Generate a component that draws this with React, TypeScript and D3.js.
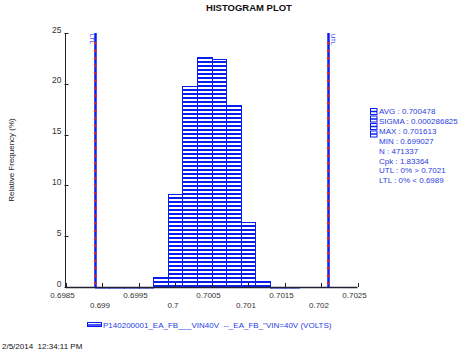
import React from "react";
import * as d3 from "d3";

const binStarts = [0.6989, 0.6991, 0.6993, 0.6995, 0.6997, 0.6999, 0.7001, 0.7003, 0.7005, 0.7007, 0.7009, 0.7011, 0.7013, 0.7015];
const frequencies = [0.01, 0.01, 0.01, 0.01, 1.0, 9.15, 19.8, 22.6, 22.4, 17.9, 6.4, 0.6, 0.02, 0.01];
const binWidth = 0.0002;
const yTicks = [0, 5, 10, 15, 20, 25];
const xTicksTop = [0.6985, 0.6995, 0.7005, 0.7015, 0.7025];
const xTicksBottom = [0.699, 0.7, 0.701, 0.702];
const limits = [
  { name: "LTL", value: 0.6989, side: -1 },
  { name: "UTL", value: 0.7021, side: 1 },
];
const statLines = [
  "AVG : 0.700478",
  "SIGMA : 0.000286825",
  "MAX : 0.701613",
  "MIN : 0.699027",
  "N : 471337",
  "Cpk : 1.83364",
  "UTL : 0% > 0.7021",
  "LTL : 0% < 0.6989",
];
const seriesLabel = "P140200001_EA_FB___VIN40V  --_EA_FB_\"VIN=40V (VOLTS)";
const dateLabel = "2/5/2014  12:34:11 PM";

const BLUE = "#0a1ef0";
const FONT = "'Liberation Sans', Arial, sans-serif";

export default function App() {
  const x = d3.scaleLinear().domain([0.6985, 0.7025]).range([65.5, 357.5]);
  const y = d3.scaleLinear().domain([0, 25]).range([287, 33]);
  const x0 = 65.5;
  const y0 = 287;

  return (
    <svg width={474} height={355} style={{ position: "absolute", left: 0, top: 0, background: "#fff" }} fontFamily={FONT}>
      <defs>
        <pattern id="hatch" patternUnits="userSpaceOnUse" width={8} height={4} y={1}>
          <rect x={0} y={0} width={8} height={4} fill="#fff" />
          <rect x={0} y={0} width={8} height={2} fill={BLUE} />
        </pattern>
      </defs>
      <rect width={474} height={355} fill="#fff" />
      <text x={249} y={11} textAnchor="middle" fontSize={9.5} fontWeight="bold" fill="#111">HISTOGRAM PLOT</text>

      {/* bars */}
      {binStarts.map((b, i) => {
        const xa = Math.round(x(b)) + 0.5;
        const xb = Math.round(x(b + binWidth)) + 0.5;
        const yt = Math.round(y(frequencies[i])) + 0.5;
        return (
          <rect key={i} x={xa} y={yt} width={xb - xa} height={Math.max(y0 - yt, 0.5)}
            fill="url(#hatch)" stroke={BLUE} strokeWidth={1} />
        );
      })}

      {/* axes */}
      <line x1={x0} x2={x0} y1={y(25)} y2={y0} stroke="#222" strokeWidth={1} />
      <line x1={x0} x2={x(0.7025)} y1={y0 + 0.5} y2={y0 + 0.5} stroke="#223" strokeWidth={1.5} />
      {yTicks.map((t) => (
        <g key={t}>
          <line x1={x0 - 1} x2={x0 + 3} y1={Math.round(y(t)) + 0.5} y2={Math.round(y(t)) + 0.5} stroke="#222" />
          <text x={x0 - 4} y={y(t) - 0.5} textAnchor="end" fontSize={8.5} fill="#333">{t}</text>
        </g>
      ))}
      {[...xTicksTop, ...xTicksBottom].map((t) => (
        <line key={"t" + t} x1={Math.round(x(t)) + 0.5} x2={Math.round(x(t)) + 0.5} y1={y0 - 4} y2={y0} stroke="#222" />
      ))}
      {xTicksTop.map((t) => (
        <text key={"a" + t} x={x(t) - 3} y={298} textAnchor="middle" fontSize={8} fill="#333">{t}</text>
      ))}
      {xTicksBottom.map((t) => (
        <text key={"b" + t} x={x(t) - 2} y={308} textAnchor="middle" fontSize={8} fill="#333">{t}</text>
      ))}
      <text transform="translate(14,160) rotate(-90)" textAnchor="middle" fontSize={8} fill="#222">Relative Frequency (%)</text>

      {/* limit lines */}
      {limits.map((l) => {
        const lx = Math.round(x(l.value)) + 0.5;
        const tx = l.side < 0 ? lx - 6 : lx + 2.5;
        return (
          <g key={l.name}>
            <line x1={lx} x2={lx} y1={y(25)} y2={y0} stroke={BLUE} strokeWidth={2.5} />
            <line x1={lx} x2={lx} y1={y(25) + 9} y2={y0} stroke="#e02020" strokeWidth={2.5} strokeDasharray="2.5,5" />
            <text transform={`translate(${tx},${y(25) + 1}) rotate(90)`} fontSize={6} fill={BLUE} textAnchor="start">{l.name}</text>
          </g>
        );
      })}

      {/* stats legend */}
      {[0, 1, 2, 3].map((i) => (
        <g key={"ic" + i}>
          <rect x={370.5} y={108.5 + i * 7.5} width={6.5} height={6} fill="#fff" stroke={BLUE} strokeWidth={1} />
          <line x1={370.5} x2={377} y1={111.5 + i * 7.5} y2={111.5 + i * 7.5} stroke={BLUE} strokeWidth={1.5} />
        </g>
      ))}
      {statLines.map((s, i) => (
        <text key={s} x={379} y={114 + i * 9.9} fontSize={8} fill="#2a40e0">{s}</text>
      ))}

      {/* series legend */}
      <rect x={87.5} y={322.5} width={14} height={4} fill="#fff" stroke={BLUE} strokeWidth={1} />
      <line x1={87.5} x2={101.5} y1={325} y2={325} stroke={BLUE} strokeWidth={1.5} />
      <text x={103} y={328} fontSize={8} fill="#2a40e0" style={{ whiteSpace: "pre" }}>{seriesLabel}</text>

      <text x={2} y={349} fontSize={8} fill="#111" style={{ whiteSpace: "pre" }}>{dateLabel}</text>
    </svg>
  );
}
